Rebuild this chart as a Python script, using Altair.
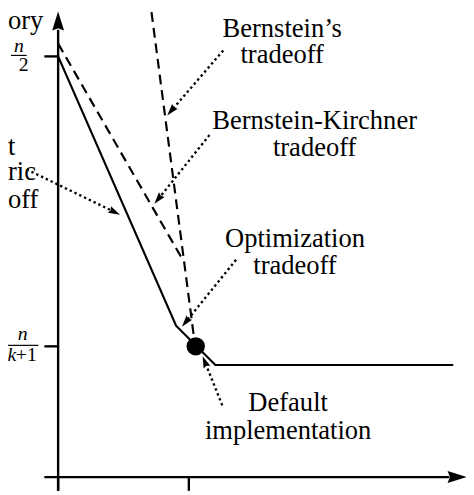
import math
import altair as alt
import pandas as pd

# ---- diagram data (units: origin at axes crossing, y upward) ----
SOLID_X = [0, 120, 160, 402]
SOLID_Y = [428, 154, 114, 114]
BK_X = [0, 128]
BK_Y = [441, 219]
BERN_X = [95, 138]
BERN_Y = [473, 144]
DOT_X = [140]
DOT_Y = [133]

# dotted annotation arrows: start -> tip
ARROW_X0 = [168, 154, 181, 167, -32]
ARROW_Y0 = [434, 348, 221, 73, 313]
ARROW_X1 = [111, 98, 126, 147, 63]
ARROW_Y1 = [368, 278, 153, 123, 267]

# labels
LABELS = ["Bernstein\u2019s", "tradeoff", "Bernstein-Kirchner", "tradeoff",
          "Optimization", "tradeoff", "Default", "implementation"]
LABEL_X = [228, 228, 261, 261, 241, 241, 234, 234]
LABEL_Y = [448, 421, 354, 327, 234, 207, 67, 39]

LEFT_LABELS = ["ory", "t", "ric", "off"]
LEFT_X = [-51, -51, -51, -51]
LEFT_Y = [456, 328, 302, 274]

YTICK_LEVELS = [428, 133]
XTICK_POS = [0, 133]

X_DOMAIN = [-51, 415]
Y_DOMAIN = [-14, 473]
W, H = 466, 487

xs = alt.Scale(domain=X_DOMAIN, nice=False, zero=False)
ys = alt.Scale(domain=Y_DOMAIN, nice=False, zero=False)


def X(f="x"):
    return alt.X(f"{f}:Q", scale=xs, axis=None)


def Y(f="y"):
    return alt.Y(f"{f}:Q", scale=ys, axis=None)


def poly(xv, yv, **mk):
    df = pd.DataFrame({"x": xv, "y": yv, "o": list(range(len(xv)))})
    return alt.Chart(df).mark_line(color="black", clip=False, **mk).encode(
        x=X(), y=Y(), order="o:Q")


def seg(x0, y0, x1, y1, **mk):
    df = pd.DataFrame({"x": [x0], "y": [y0], "x2": [x1], "y2": [y1]})
    return alt.Chart(df).mark_rule(color="black", **mk).encode(
        x=X(), y=Y(), x2="x2:Q", y2="y2:Q")


layers = []

# axes
layers.append(seg(0, Y_DOMAIN[0], 0, 455, strokeWidth=2.4))
layers.append(seg(-14, 0, 398, 0, strokeWidth=2.4))
ARROW_PATH = "M0,-1L0.62,1L0,0.75L-0.62,1Z"
ax_heads = pd.DataFrame({"x": [0, 406], "y": [464, 0], "a": [0, 90]})
layers.append(alt.Chart(ax_heads).mark_point(
    shape=ARROW_PATH, filled=True, color="black", opacity=1, size=380, strokeWidth=0
).encode(x=X(), y=Y(), angle=alt.Angle("a:Q", scale=None)))

for lvl in YTICK_LEVELS:
    layers.append(seg(-14, lvl, 0, lvl, strokeWidth=2.4))
for p in XTICK_POS:
    layers.append(seg(p, 0, p, Y_DOMAIN[0], strokeWidth=2.4))

# curves
layers.append(poly(SOLID_X, SOLID_Y, strokeWidth=2.2, strokeJoin="miter"))
layers.append(poly(BK_X, BK_Y, strokeWidth=2.2, strokeDash=[10, 6]))
layers.append(poly(BERN_X, BERN_Y, strokeWidth=2.2, strokeDash=[10, 6]))

dot_df = pd.DataFrame({"x": DOT_X, "y": DOT_Y})
layers.append(alt.Chart(dot_df).mark_circle(color="black", opacity=1, size=350).encode(
    x=X(), y=Y()))

# dotted arrows
HEAD = 12
rows_line, rows_head = [], []
for i, (x0, y0, x1, y1) in enumerate(zip(ARROW_X0, ARROW_Y0, ARROW_X1, ARROW_Y1)):
    dx, dy = x1 - x0, y1 - y0
    n = math.hypot(dx, dy)
    ux, uy = dx / n, dy / n
    cx, cy = x1 - ux * HEAD / 2, y1 - uy * HEAD / 2
    ang = math.degrees(math.atan2(dx, dy)) % 360
    rows_line.append({"x": x0, "y": y0, "x2": cx, "y2": cy})
    rows_head.append({"x": cx, "y": cy, "a": ang})
layers.append(alt.Chart(pd.DataFrame(rows_line)).mark_rule(
    color="black", strokeWidth=2.4, strokeDash=[2.4, 3.0]
).encode(x=X(), y=Y(), x2="x2:Q", y2="y2:Q"))
layers.append(alt.Chart(pd.DataFrame(rows_head)).mark_point(
    shape=ARROW_PATH, filled=True, color="black", opacity=1, size=HEAD * HEAD, strokeWidth=0
).encode(x=X(), y=Y(), angle=alt.Angle("a:Q", scale=None)))

# labels
FONT = "Liberation Serif"
lab_df = pd.DataFrame({"t": LABELS, "x": LABEL_X, "y": LABEL_Y})
layers.append(alt.Chart(lab_df).mark_text(
    font=FONT, fontSize=27, align="center", baseline="alphabetic", color="black"
).encode(x=X(), y=Y(), text="t:N"))

left_df = pd.DataFrame({"t": LEFT_LABELS, "x": LEFT_X, "y": LEFT_Y})
layers.append(alt.Chart(left_df).mark_text(
    font=FONT, fontSize=27, align="left", baseline="alphabetic", color="black"
).encode(x=X(), y=Y(), text="t:N"))

# fraction tick labels
FRAC_IT = ["n", "n", "k"]
FRAC_IT_X = [-40, -36, -47]
FRAC_IT_Y = [432, 139, 118]
FRAC_RM = ["2", "+1"]
FRAC_RM_X = [-40, -43]
FRAC_RM_Y = [413, 118]
it_df = pd.DataFrame({"t": FRAC_IT, "x": FRAC_IT_X, "y": FRAC_IT_Y})
layers.append(alt.Chart(it_df).mark_text(
    font=FONT, fontSize=20, fontStyle="italic", align="center", baseline="alphabetic", color="black"
).encode(x=X(), y=Y(), text="t:N"))
rm_df = pd.DataFrame({"t": FRAC_RM, "x": FRAC_RM_X, "y": FRAC_RM_Y})
layers.append(alt.Chart(rm_df).mark_text(
    font=FONT, fontSize=20, align="left", baseline="alphabetic", color="black"
).encode(x=X(), y=Y(), text="t:N"))
layers.append(seg(-48, 429, -32, 429, strokeWidth=1.2))
layers.append(seg(-51, 134, -20, 134, strokeWidth=1.2))

chart = alt.layer(*layers).properties(
    width=W, height=H, padding=0, autosize=alt.AutoSizeParams(type="none"),
    background="white"
).configure_view(stroke=None)

chart.save("out.html", embed_options={"renderer": "svg", "actions": False})
